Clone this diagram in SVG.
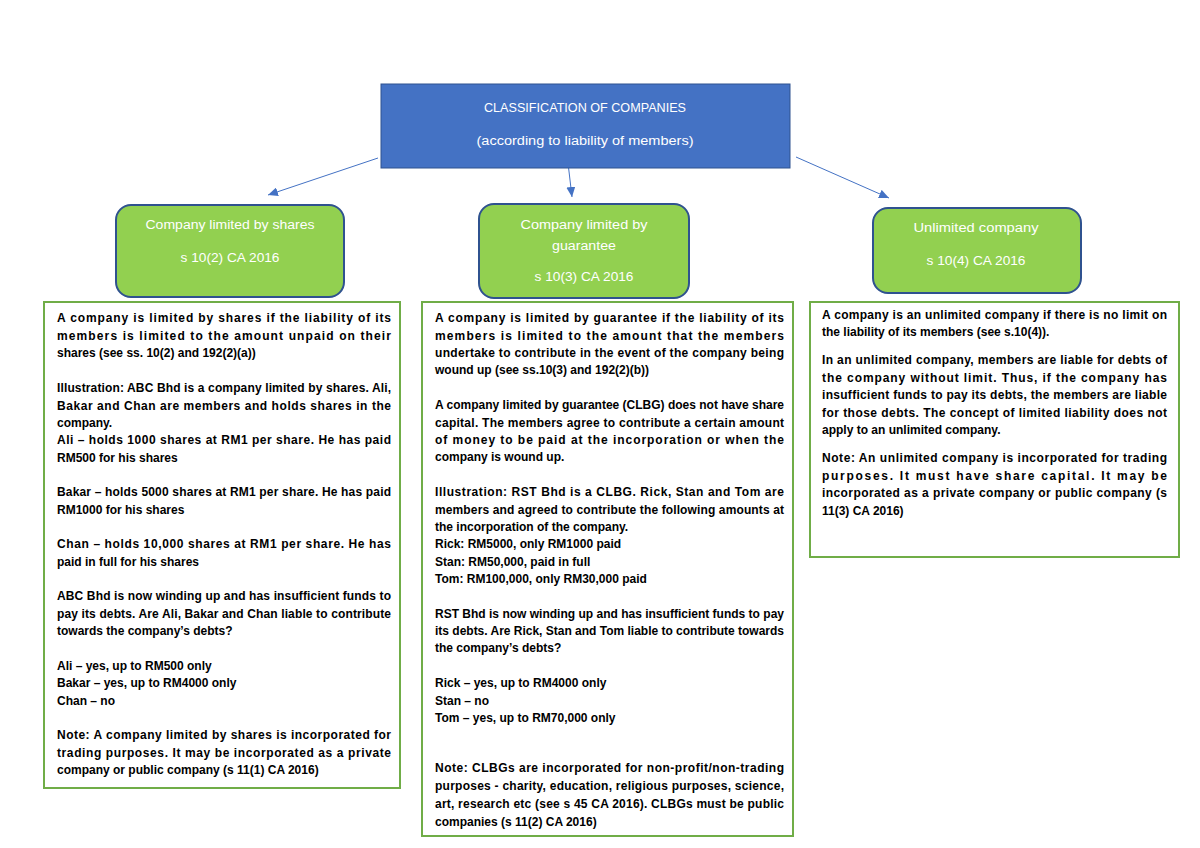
<svg xmlns="http://www.w3.org/2000/svg" width="1200" height="848" viewBox="0 0 1200 848">
<defs>
<marker id="arr" markerUnits="userSpaceOnUse" markerWidth="10" markerHeight="9" refX="10" refY="4.5" orient="auto">
<path d="M0,0 L10,4.5 L0,9 z" fill="#4472C4"/>
</marker>
<style>
.hdr{fill:#4472C4;stroke:#2F528F;stroke-width:1}
.node{fill:#92D050;stroke:#2F528F;stroke-width:2}
.box{fill:#fff;stroke:#70AD47;stroke-width:2}
.wt{font-family:"Liberation Sans",Arial,sans-serif;font-size:12.5px;fill:#fff;text-anchor:middle}
.bt{font-family:"Liberation Sans",Arial,sans-serif;font-size:12px;font-weight:bold;fill:#000}
.conn{stroke:#4472C4;stroke-width:1;fill:none}
</style>
</defs>
<rect width="1200" height="848" fill="#fff"/>

<g id="connectors">
<line class="conn" x1="378" y1="158" x2="268" y2="195" marker-end="url(#arr)"/>
<line class="conn" x1="568" y1="163" x2="572" y2="197" marker-end="url(#arr)"/>
<line class="conn" x1="796" y1="157" x2="889" y2="198" marker-end="url(#arr)"/>
</g>

<g id="root">
<rect class="hdr" x="381" y="84" width="409" height="84"/>
<text class="wt" x="585" y="112" textLength="202" lengthAdjust="spacingAndGlyphs">CLASSIFICATION OF COMPANIES</text>
<text class="wt" x="585" y="145" textLength="217" lengthAdjust="spacingAndGlyphs">(according to liability of members)</text>
</g>

<g id="shares">
<rect class="node" x="116" y="205" width="228" height="92" rx="15"/>
<text class="wt" x="230" y="229" textLength="169" lengthAdjust="spacingAndGlyphs">Company limited by shares</text>
<text class="wt" x="230" y="262" textLength="99" lengthAdjust="spacingAndGlyphs">s 10(2) CA 2016</text>
</g>

<g id="guarantee">
<rect class="node" x="479" y="204" width="210" height="94" rx="15"/>
<text class="wt" x="584" y="229" textLength="127" lengthAdjust="spacingAndGlyphs">Company limited by</text>
<text class="wt" x="584" y="250" textLength="64" lengthAdjust="spacingAndGlyphs">guarantee</text>
<text class="wt" x="584" y="281" textLength="99" lengthAdjust="spacingAndGlyphs">s 10(3) CA 2016</text>
</g>

<g id="unlimited">
<rect class="node" x="873" y="208" width="208" height="85" rx="15"/>
<text class="wt" x="976" y="232" textLength="125" lengthAdjust="spacingAndGlyphs">Unlimited company</text>
<text class="wt" x="976" y="265" textLength="99" lengthAdjust="spacingAndGlyphs">s 10(4) CA 2016</text>
</g>

<g id="shares-text">
<rect class="box" x="44" y="302" width="356" height="486"/>
<text class="bt" x="57" y="322" textLength="334" lengthAdjust="spacing">A company is limited by shares if the liability of its</text>
<text class="bt" x="57" y="340" textLength="334" lengthAdjust="spacing">members is limited to the amount unpaid on their</text>
<text class="bt" x="57" y="357">shares (see ss. 10(2) and 192(2)(a))</text>
<text class="bt" x="57" y="392" textLength="334" lengthAdjust="spacing">Illustration: ABC Bhd is a company limited by shares. Ali,</text>
<text class="bt" x="57" y="410" textLength="334" lengthAdjust="spacing">Bakar and Chan are members and holds shares in the</text>
<text class="bt" x="57" y="427">company.</text>
<text class="bt" x="57" y="444" textLength="334" lengthAdjust="spacing">Ali – holds 1000 shares at RM1 per share. He has paid</text>
<text class="bt" x="57" y="462">RM500 for his shares</text>
<text class="bt" x="57" y="496" textLength="334" lengthAdjust="spacing">Bakar – holds 5000 shares at RM1 per share. He has paid</text>
<text class="bt" x="57" y="514">RM1000 for his shares</text>
<text class="bt" x="57" y="548" textLength="334" lengthAdjust="spacing">Chan – holds 10,000 shares at RM1 per share. He has</text>
<text class="bt" x="57" y="566">paid in full for his shares</text>
<text class="bt" x="57" y="600" textLength="334" lengthAdjust="spacing">ABC Bhd is now winding up and has insufficient funds to</text>
<text class="bt" x="57" y="618" textLength="334" lengthAdjust="spacing">pay its debts. Are Ali, Bakar and Chan liable to contribute</text>
<text class="bt" x="57" y="635">towards the company’s debts?</text>
<text class="bt" x="57" y="670">Ali – yes, up to RM500 only</text>
<text class="bt" x="57" y="687">Bakar – yes, up to RM4000 only</text>
<text class="bt" x="57" y="705">Chan – no</text>
<text class="bt" x="57" y="739" textLength="334" lengthAdjust="spacing">Note: A company limited by shares is incorporated for</text>
<text class="bt" x="57" y="757" textLength="334" lengthAdjust="spacing">trading purposes. It may be incorporated as a private</text>
<text class="bt" x="57" y="774">company or public company (s 11(1) CA 2016)</text>
</g>

<g id="guarantee-text">
<rect class="box" x="422" y="302" width="371" height="534"/>
<text class="bt" x="435" y="322" textLength="349" lengthAdjust="spacing">A company is limited by guarantee if the liability of its</text>
<text class="bt" x="435" y="340" textLength="349" lengthAdjust="spacing">members is limited to the amount that the members</text>
<text class="bt" x="435" y="357" textLength="349" lengthAdjust="spacing">undertake to contribute in the event of the company being</text>
<text class="bt" x="435" y="374">wound up (see ss.10(3) and 192(2)(b))</text>
<text class="bt" x="435" y="409" textLength="349" lengthAdjust="spacing">A company limited by guarantee (CLBG) does not have share</text>
<text class="bt" x="435" y="427" textLength="349" lengthAdjust="spacing">capital. The members agree to contribute a certain amount</text>
<text class="bt" x="435" y="444" textLength="349" lengthAdjust="spacing">of money to be paid at the incorporation or when the</text>
<text class="bt" x="435" y="461">company is wound up.</text>
<text class="bt" x="435" y="496" textLength="349" lengthAdjust="spacing">Illustration: RST Bhd is a  CLBG. Rick, Stan and Tom are</text>
<text class="bt" x="435" y="514" textLength="349" lengthAdjust="spacing">members and agreed to contribute the following amounts at</text>
<text class="bt" x="435" y="531">the incorporation of the company.</text>
<text class="bt" x="435" y="548">Rick: RM5000, only RM1000 paid</text>
<text class="bt" x="435" y="566">Stan: RM50,000, paid in full</text>
<text class="bt" x="435" y="583">Tom: RM100,000, only RM30,000 paid</text>
<text class="bt" x="435" y="618" textLength="349" lengthAdjust="spacing">RST Bhd is now winding up and has insufficient funds to pay</text>
<text class="bt" x="435" y="635" textLength="349" lengthAdjust="spacing">its debts. Are Rick, Stan and Tom liable to contribute towards</text>
<text class="bt" x="435" y="652">the company’s debts?</text>
<text class="bt" x="435" y="687">Rick – yes, up to RM4000 only</text>
<text class="bt" x="435" y="705">Stan – no</text>
<text class="bt" x="435" y="722">Tom – yes, up to RM70,000 only</text>
<text class="bt" x="435" y="772" textLength="349" lengthAdjust="spacing">Note: CLBGs are incorporated for non-profit/non-trading</text>
<text class="bt" x="435" y="790" textLength="349" lengthAdjust="spacing">purposes - charity, education, religious purposes, science,</text>
<text class="bt" x="435" y="808" textLength="349" lengthAdjust="spacing">art, research etc (see s 45 CA 2016). CLBGs must be public</text>
<text class="bt" x="435" y="826">companies (s 11(2) CA 2016)</text>
</g>

<g id="unlimited-text">
<rect class="box" x="810" y="302" width="369" height="255"/>
<text class="bt" x="822" y="319" textLength="345" lengthAdjust="spacing">A company is an unlimited company if there is no limit on</text>
<text class="bt" x="822" y="336">the liability of its members (see s.10(4)).</text>
<text class="bt" x="822" y="364" textLength="345" lengthAdjust="spacing">In an unlimited company, members are liable for debts of</text>
<text class="bt" x="822" y="382" textLength="345" lengthAdjust="spacing">the company without limit. Thus, if the company has</text>
<text class="bt" x="822" y="399" textLength="345" lengthAdjust="spacing">insufficient funds to pay its debts, the members are liable</text>
<text class="bt" x="822" y="417" textLength="345" lengthAdjust="spacing">for those debts. The concept of limited liability does not</text>
<text class="bt" x="822" y="434">apply to an unlimited company.</text>
<text class="bt" x="822" y="462" textLength="345" lengthAdjust="spacing">Note: An unlimited company is incorporated for trading</text>
<text class="bt" x="822" y="480" textLength="345" lengthAdjust="spacing">purposes. It must have share capital. It may be</text>
<text class="bt" x="822" y="497" textLength="345" lengthAdjust="spacing">incorporated as a private company or public company (s</text>
<text class="bt" x="822" y="515">11(3) CA 2016)</text>
</g>
</svg>
